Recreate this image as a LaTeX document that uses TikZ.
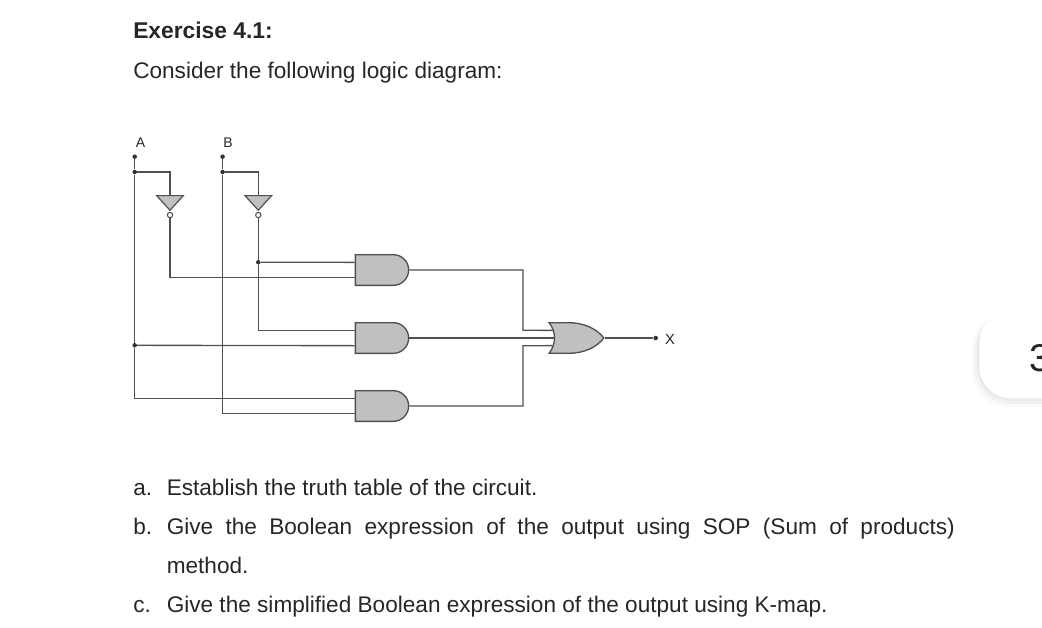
\documentclass[tikz,border=0pt]{standalone}
\usepackage{fontspec}
\setmainfont{Liberation Sans}
\usepackage{xcolor}
\usetikzlibrary{shapes.geometric,shapes.misc,shapes.gates.logic.US}
\definecolor{wire-gray}{HTML}{505050}
\definecolor{gate-gray}{HTML}{C0C0C0}
\tikzset{
    body-text/.style = {anchor=base west, inner sep=0pt, font=\fontsize{16.95}{20}\selectfont, text=black!85},
    pin-label/.style = {inner sep=0pt, font=\fontsize{10.5}{12}\selectfont, text=black!85},
    wire/.style = {draw=wire-gray, line width=1pt},
    wire-dot/.style = {circle, fill=black!80, inner sep=0pt, minimum size=3.4pt},
    and-gate/.style = {rounded rectangle, rounded rectangle west arc=none, draw=wire-gray, fill=gate-gray, line width=1pt, minimum height=23pt, minimum width=40pt, inner sep=0pt},
    or-gate/.style = {or gate US, draw=wire-gray, fill=gate-gray, line width=1pt, logic gate inputs=nnn, logic gate input sep=7.5pt, minimum height=23pt, minimum width=40pt, inner sep=0pt, yscale=0.765, transform shape},
    inv-gate/.style = {isosceles triangle, isosceles triangle stretches, shape border rotate=-90, draw=wire-gray, fill=gate-gray, line width=0.9pt, minimum width=20pt, minimum height=11pt, inner sep=0pt},
    inv-bubble/.style = {circle, draw=wire-gray, fill=white, line width=0.8pt, minimum size=4pt, inner sep=0pt, anchor=north},
}

\begin{document}
\begin{tikzpicture}[x=0.75pt, y=-0.75pt]
\useasboundingbox (0,0) rectangle (1042,628);

% text
\node[body-text, font=\fontsize{17.1}{20}\selectfont\bfseries] (title) at (133,38) {Exercise 4.1:};
\node[body-text] (intro) at (133,78) {Consider the following logic diagram:};
\node[body-text] (item-a) at (133,495) {a.};
\node[body-text] (text-a) at (166.5,495) {Establish the truth table of the circuit.};
\node[body-text] (item-b) at (133,534) {b.};
\node[body-text] (text-b) at (166.5,534) {\makebox[591pt][s]{Give the Boolean expression of the output using SOP (Sum of products)}};
\node[body-text] (text-b2) at (166.5,573) {method.};
\node[body-text] (item-c) at (133,612) {c.};
\node[body-text] (text-c) at (166.5,612) {Give the simplified Boolean expression of the output using K-map.};

% inputs
\node[pin-label] (label-a) at (140.5,143) {A};
\node[pin-label] (label-b) at (228,143) {B};
\node[wire-dot] (a-top) at (134.7,156.7) {};
\node[wire-dot] (b-top) at (222.6,156.7) {};
\node[wire-dot] (a-tap) at (134.7,172) {};
\node[wire-dot] (b-tap) at (222.6,172) {};

% inverters
\node[inv-gate] (not-a) at (170,201.5) {};
\node[inv-gate] (not-b) at (258.3,201.5) {};
\node[inv-bubble] (bub-a) at (not-a.apex) {};
\node[inv-bubble] (bub-b) at (not-b.apex) {};

% gates
\node[and-gate] (and-1) at (382,270) {};
\node[and-gate] (and-2) at (382,338) {};
\node[and-gate] (and-3) at (382,406) {};
\node[or-gate] (or-1) at (572.5,338) {};
\coordinate (and-1-top) at ([yshift=5.75pt]and-1.west);
\coordinate (and-1-low) at ([yshift=-5.75pt]and-1.west);
\coordinate (and-2-top) at ([yshift=5.75pt]and-2.west);
\coordinate (and-2-low) at ([yshift=-5.75pt]and-2.west);
\coordinate (and-3-top) at ([yshift=5.75pt]and-3.west);
\coordinate (and-3-low) at ([yshift=-5.75pt]and-3.west);
\coordinate (or-bend-top) at (523,330.3);
\coordinate (or-bend-low) at (523,345.7);

% other dots
\node[wire-dot] (b-inv-tap) at (258.3,262.3) {};
\node[wire-dot] (a-mid) at (134.7,345.3) {};
\node[wire-dot] (out-x) at (655.7,338) {};
\node[pin-label, font=\fontsize{11}{12}\selectfont] (label-x) at (670,339) {X};

% connectors
\draw[wire] (a-top) -- (a-tap) -- (a-mid);
\draw[wire] (b-top) -- (b-tap);
\draw[wire] (a-tap) -| (not-a.lower side);
\draw[wire] (b-tap) -| (not-b.lower side);
\draw[wire] (bub-a.south) |- (and-1-low);
\draw[wire] (bub-b.south) -- (b-inv-tap);
\draw[wire] (b-inv-tap) -- (and-1-top);
\draw[wire] (b-inv-tap) |- (and-2-top);
\draw[wire] (a-mid) -- (and-2-low);
\draw[wire] (a-mid) |- (and-3-top);
\draw[wire] (b-tap) |- (and-3-low);
\draw[wire] (and-1.east) -| (or-bend-top) -- (or-1.input 1);
\draw[wire] (and-2.east) -- (or-1.input 2);
\draw[wire] (and-3.east) -| (or-bend-low) -- (or-1.input 3);
\draw[wire] (or-1.output) -- (out-x);

% page tab on the right
\fill[black, opacity=0.02, rounded corners=26pt] (972,314) rectangle (1100,407);
\fill[black, opacity=0.03, rounded corners=26pt] (975,314) rectangle (1100,404);
\fill[black, opacity=0.04, rounded corners=26pt] (977,314) rectangle (1100,401);
\node[fill=white, rounded corners=24pt, minimum width=100pt, minimum height=65pt, anchor=west, inner sep=0pt] (tab) at (979,355) {};
\node[inner sep=0pt, anchor=base west, font=\fontsize{29}{30}\selectfont, text=black!85] (tab-num) at (1029,371) {3};
\end{tikzpicture}
\end{document}
